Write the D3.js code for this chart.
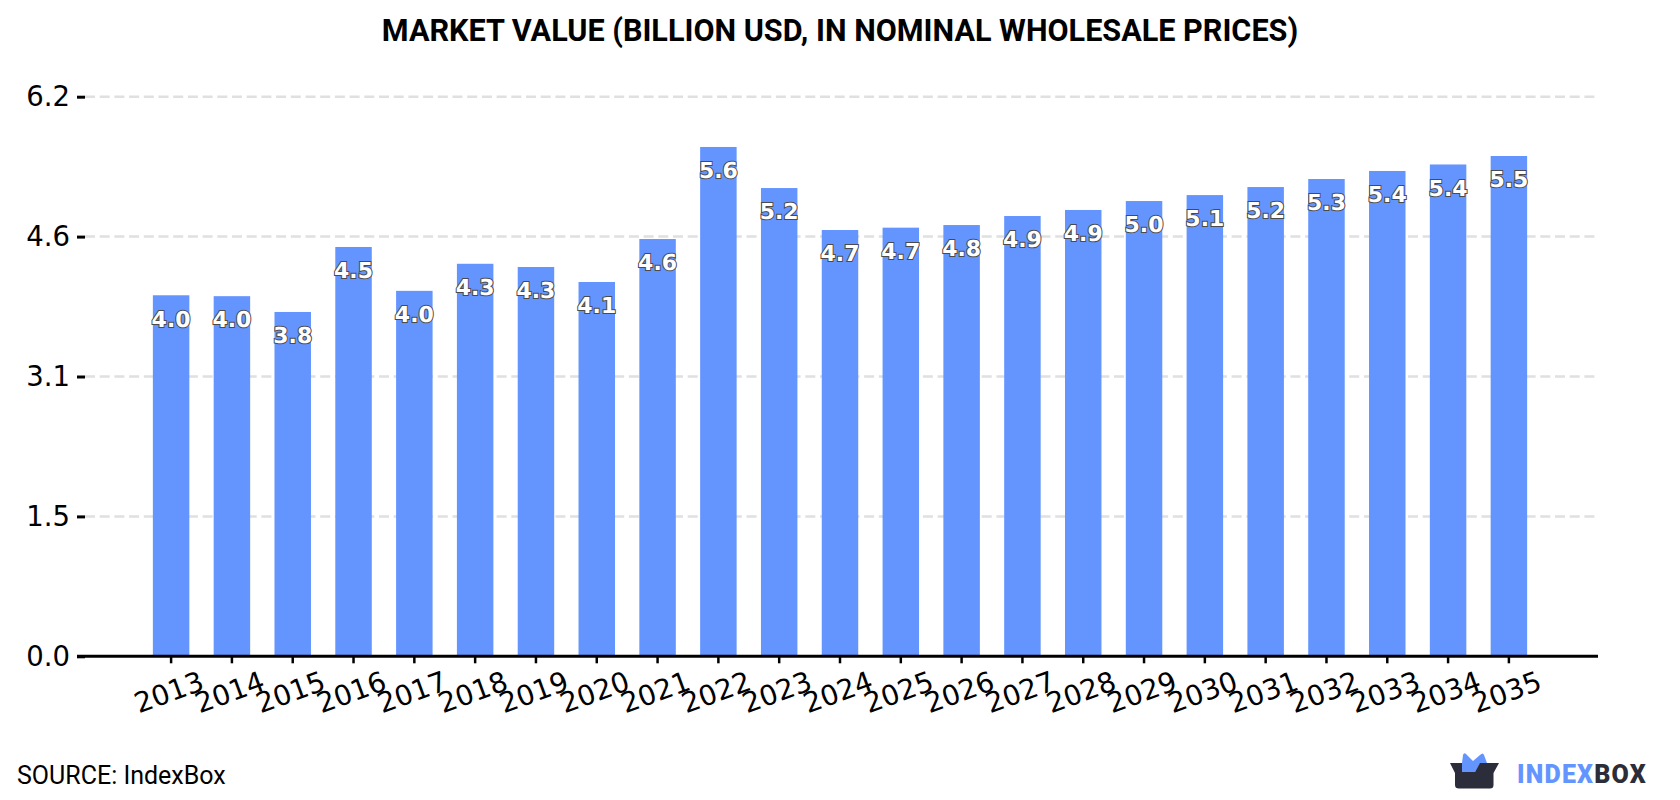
<!DOCTYPE html>
<html>
<head>
<meta charset="utf-8">
<script src="https://cdnjs.cloudflare.com/ajax/libs/d3/7.8.5/d3.min.js"></script>
<style>
html, body { margin: 0; padding: 0; background: #fff; }
svg { display: block; }
</style>
</head>
<body>
<svg id="chart" width="1680" height="800"></svg>
<script>
const years = ["2013","2014","2015","2016","2017","2018","2019","2020","2021","2022","2023","2024","2025","2026","2027","2028","2029","2030","2031","2032","2033","2034","2035"];
const marketValue = [4.00,3.99,3.815,4.535,4.049,4.349,4.313,4.147,4.623,5.643,5.188,4.723,4.749,4.778,4.878,4.945,5.044,5.11,5.199,5.288,5.377,5.449,5.543];
const yTickValues = [0, 1.55, 3.1, 4.65, 6.2];
const yTickLabels = ["0.0", "1.5", "3.1", "4.6", "6.2"];
const chartTitle = "MARKET VALUE (BILLION USD, IN NOMINAL WHOLESALE PRICES)";
const sourceText = "SOURCE: IndexBox";

const BLUE = "#6495ff";
const DARK = "#2b2d3a";
const svg = d3.select("#chart");

const x = d3.scaleBand().domain(years).range([140.7, 1539.3]).paddingInner(0.4).paddingOuter(0.2);
const y = d3.scaleLinear().domain([0, 6.2]).range([656.3, 96.7]);

// Title
svg.append("text").attr("x", 840).attr("y", 41).attr("text-anchor", "middle")
  .attr("font-family", "Roboto").attr("font-weight", 700).attr("font-size", 30.6)
  .attr("fill", "#000").text(chartTitle);

// Dashed horizontal grid
svg.append("g").selectAll("line").data(yTickValues.slice(1)).join("line")
  .attr("x1", 85).attr("x2", 1598)
  .attr("y1", d => y(d)).attr("y2", d => y(d))
  .attr("stroke", "#e0e0e0").attr("stroke-width", 2.5).attr("stroke-dasharray", "10 4.7");

// Bars
svg.append("g").selectAll("rect").data(marketValue).join("rect")
  .attr("x", (d, i) => x(years[i]))
  .attr("width", x.bandwidth())
  .attr("y", d => y(d))
  .attr("height", d => y(0) - y(d))
  .attr("fill", BLUE);

// Value labels inside the bars
svg.append("g").selectAll("text").data(marketValue).join("text")
  .attr("x", (d, i) => x(years[i]) + x.bandwidth() / 2)
  .attr("y", d => y(d) + 31.3)
  .attr("text-anchor", "middle")
  .attr("text-rendering", "geometricPrecision")
  .attr("font-family", "DejaVu Sans").attr("font-weight", 700).attr("font-size", 22)
  .attr("fill", "#fff").attr("stroke", "#4a4a4a").attr("stroke-width", 2)
  .attr("paint-order", "stroke")
  .text(d => d3.format(".1f")(d));

// Y axis
const yAxis = d3.axisLeft(y).tickValues(yTickValues).tickSize(8).tickPadding(7)
  .tickFormat((d, i) => yTickLabels[i]);
const yG = svg.append("g").attr("transform", "translate(85,0)").call(yAxis);
yG.select(".domain").remove();
yG.selectAll(".tick line").attr("stroke", "#000").attr("stroke-width", 3);
yG.selectAll(".tick text").attr("font-family", "DejaVu Sans").attr("font-size", 27.5).attr("fill", "#000");

// X axis
const xAxis = d3.axisBottom(x).tickSize(7).tickPadding(8).tickSizeOuter(0);
const xG = svg.append("g").attr("transform", `translate(0,${y(0)})`).call(xAxis);
xG.select(".domain").remove();
xG.selectAll(".tick line").attr("stroke", "#000").attr("stroke-width", 2.5);
xG.selectAll(".tick text")
  .attr("font-family", "DejaVu Sans").attr("font-size", 28).attr("fill", "#000")
  .attr("text-anchor", "middle")
  .attr("y", 0).attr("dy", "0.35em")
  .attr("transform", "translate(-2.2,35.8) rotate(-20)");
svg.append("line").attr("x1", 77).attr("x2", 1598).attr("y1", y(0)).attr("y2", y(0))
  .attr("stroke", "#000").attr("stroke-width", 3);

// Source note
svg.append("text").attr("x", 17).attr("y", 784)
  .attr("font-family", "Roboto").attr("font-size", 25).attr("fill", "#000").text(sourceText);

// Brand mark and wordmark
const logo = svg.append("g");
logo.append("path").attr("fill", BLUE)
  .attr("d", "M1462,772 L1462,763 L1463,755 Q1464,752 1466,754 L1473,761 L1480,755 Q1483,752 1484,755 L1487,763 L1480,764 L1475,772 Z");
logo.append("path").attr("fill", DARK)
  .attr("d", "M1450,763 L1462,763 L1462,772 L1475,772 L1480,763 L1499,763 L1493.5,773 L1493.5,785 Q1493.5,788.5 1490,788.5 L1459,788.5 Q1455,788.5 1455,785 L1455,773 Z");
const word = logo.append("text").attr("x", 1517).attr("y", 783)
  .attr("font-family", "Roboto").attr("font-weight", 900).attr("font-size", 25).attr("letter-spacing", 1.2);
word.append("tspan").attr("fill", BLUE).text("INDEX");
word.append("tspan").attr("fill", DARK).text("BOX");
</script>
</body>
</html>
